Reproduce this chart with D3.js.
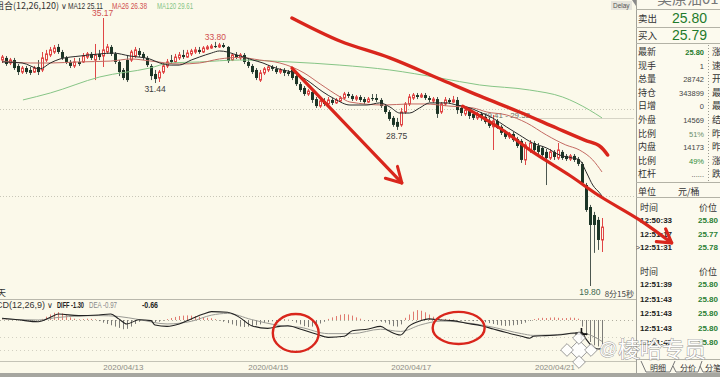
<!DOCTYPE html>
<html><head><meta charset="utf-8">
<script src="https://cdn.jsdelivr.net/npm/d3@7"></script>
<style>
html,body{margin:0;padding:0;background:#fbf9ea;}
svg{display:block;}
</style></head><body>
<svg id="c" width="720" height="377"></svg>
<script>
// ---------------- DATA ----------------
const opens = [32.76,32.88,32.59,32.76,32.42,32.07,32.30,32.19,32.07,32.36,
32.19,32.76,33.05,33.22,33.51,33.22,32.88,32.65,32.42,32.65,
32.65,32.93,33.11,32.76,33.11,32.99,33.22,33.51,33.11,32.65,
32.19,32.76,32.76,32.99,33.28,33.11,32.88,32.42,31.96,31.73,
32.07,32.42,32.76,32.65,32.88,33.05,32.93,33.11,33.22,33.34,
33.22,33.40,33.45,33.56,33.51,33.62,33.51,32.76,33.05,32.88,
33.05,32.65,32.42,32.19,31.61,32.02,32.19,32.36,32.25,32.07,
32.19,32.07,32.19,31.84,31.38,31.16,30.81,30.93,30.52,30.12,
30.41,30.24,30.47,30.30,30.41,30.58,30.81,30.70,30.52,30.64,
30.52,30.35,30.58,30.58,30.47,30.12,29.78,29.44,29.21,29.04,
29.78,30.24,30.58,30.75,30.64,30.75,30.58,30.41,30.52,29.78,
30.24,30.47,30.35,30.47,30.01,29.67,29.89,29.67,29.44,29.67,
29.50,29.27,28.93,29.27,28.93,28.63,28.35,28.52,28.23,28.12,
27.03,27.60,28.00,27.83,27.72,27.49,27.14,27.49,27.14,27.49,
27.26,27.08,27.26,27.08,26.80,25.59,24.33,23.87,23.59,22.44];
const highs = [33.05,32.99,32.88,32.88,32.53,32.42,32.42,32.36,32.42,32.76,
33.22,33.34,33.51,33.62,33.68,33.34,32.99,32.76,32.88,32.88,
33.16,33.22,33.22,33.68,33.34,35.17,33.68,33.62,33.22,32.76,
32.30,33.05,33.34,33.51,33.45,33.22,32.99,32.53,32.19,32.19,
32.59,32.82,33.05,33.11,33.22,33.34,33.34,33.40,33.51,33.51,
33.56,33.62,33.68,33.80,33.74,33.74,33.56,33.16,33.22,33.16,
33.16,32.88,32.53,32.30,32.19,32.36,32.47,32.47,32.42,32.30,
32.30,32.19,32.30,31.96,31.50,31.27,31.10,31.04,30.64,30.52,
30.58,30.64,30.58,30.58,30.70,30.93,30.93,30.81,30.75,30.75,
30.64,30.64,30.81,30.81,30.58,30.24,29.89,29.55,29.44,30.01,
30.35,30.81,30.87,30.87,30.87,30.87,30.70,30.64,30.64,30.35,
30.64,30.58,30.70,30.64,30.12,30.07,30.01,29.84,29.78,29.78,
29.61,29.44,29.61,29.38,29.04,28.75,28.63,28.63,28.35,28.23,
28.06,28.17,28.12,28.00,27.83,27.66,27.66,27.60,28.00,27.60,
27.37,27.37,27.37,27.20,26.91,25.71,24.45,24.05,23.76,23.70];
const lows = [32.59,32.42,32.47,32.19,31.90,31.96,31.96,31.90,32.02,31.90,
32.07,32.65,32.93,33.11,33.11,32.76,32.53,32.30,32.30,32.42,
32.59,32.82,32.76,31.61,32.76,32.36,33.11,32.99,32.53,31.84,
31.61,31.50,32.65,32.88,32.93,32.76,32.36,31.61,31.44,31.50,
31.96,32.30,32.53,32.59,32.76,32.82,32.88,32.99,33.11,33.11,
33.16,33.34,33.40,33.45,33.45,33.45,32.59,32.70,32.82,32.76,
32.53,32.30,31.96,31.61,31.50,31.90,32.07,32.13,31.96,31.96,
31.84,31.84,31.61,31.27,30.93,30.70,30.70,30.30,30.01,30.01,
30.12,30.12,30.18,30.24,30.35,30.47,30.58,30.41,30.41,30.35,
30.24,30.30,30.41,30.35,30.01,29.67,29.27,28.93,28.75,28.93,
29.67,30.12,30.47,30.52,30.58,30.47,30.35,30.30,29.44,29.67,
30.12,30.24,30.30,29.67,29.55,29.55,29.38,29.32,29.32,29.27,
29.10,28.86,27.60,28.81,28.46,28.23,28.23,28.06,27.72,26.86,
26.74,27.43,27.49,27.31,27.14,25.59,27.03,27.03,27.03,27.03,
26.97,26.97,26.91,26.68,25.59,24.05,19.80,21.70,21.87,21.75];
const closes = [32.93,32.53,32.76,32.30,32.07,32.30,32.07,32.02,32.30,32.07,
32.88,33.11,33.34,33.45,33.22,32.88,32.65,32.42,32.65,32.53,
32.99,33.11,32.88,33.05,32.93,33.34,33.51,33.11,32.65,32.07,
31.73,31.61,33.22,33.34,33.05,32.88,32.47,31.84,31.67,32.07,
32.42,32.65,32.65,32.93,33.05,32.93,33.16,33.28,33.34,33.22,
33.45,33.51,33.56,33.51,33.62,33.51,32.70,33.05,32.93,33.05,
32.65,32.42,32.07,31.73,32.02,32.25,32.36,32.25,32.07,32.19,
32.02,31.96,31.73,31.38,31.04,30.81,30.98,30.47,30.12,30.41,
30.24,30.47,30.30,30.47,30.58,30.81,30.70,30.52,30.64,30.47,
30.35,30.52,30.52,30.47,30.12,29.78,29.38,29.04,28.93,29.78,
30.24,30.64,30.75,30.64,30.75,30.58,30.47,30.52,29.67,30.24,
30.47,30.35,30.47,29.89,29.72,29.89,29.55,29.44,29.67,29.44,
29.21,28.98,29.27,28.86,28.58,28.35,28.52,28.17,27.83,27.03,
27.89,28.00,27.60,27.49,27.31,27.14,27.49,27.20,27.60,27.14,
27.08,27.26,27.03,26.80,25.71,24.16,23.30,23.30,22.44,23.18];

// moving averages (bar index, price)
const ma12Idx = [0,5,9.4,12,14.4,19.4,24.3,27.5,31.8,36.7,39.2,42,44,47,49,52,54,56,57.5,60,62.3,64.8,67.2,69.7,72,75.7,79.7,82.6,86.4,90.6,93.8,96.3,98.8,101.2,103.7,106.2,110.4,112.9,115.4,118.6,121.8,125.3,128.5,131.8,135.2,138.5,141.7,143.4,145.2,146.7,148.4,149];
const ma12Val = [32.65,32.59,32.25,32.59,32.82,32.99,33.11,33.16,32.99,32.82,32.59,32.47,32.47,32.76,32.93,33.16,33.28,33.22,33.11,32.93,32.76,32.59,32.36,32.19,32.07,31.61,30.93,30.53,30.18,30.18,30.30,30.07,29.72,29.72,30.01,30.30,30.30,30.18,30.07,29.78,29.44,28.92,28.46,28.00,27.72,27.31,27.14,27.03,26.28,25.59,25.14,24.96];
const ma26Idx = [0,7,12,19,27,32,37,44,49,54,59,64,69,72,75,79,84,86.4,95,101,105,111,117,120.4,125.3,130.3,135.2,140,143.4,146.7,149];
const ma26Val = [32.70,32.59,32.59,32.65,32.70,32.82,32.70,32.53,32.59,32.82,32.91,32.76,32.59,32.36,32.02,31.39,30.64,30.35,30.18,30.24,30.24,30.12,30.01,29.78,29.61,29.15,28.46,27.89,27.60,27.03,26.34];
const ma120Idx = [5.2,12,24.3,36.7,41.7,49.1,59,71.5,83.9,96.3,108.7,118.6,131,139.2,145.9,149];
const ma120Val = [30.47,30.87,31.79,32.30,32.59,32.65,32.76,32.65,32.47,32.19,31.73,31.33,31.04,30.64,29.89,29.44];

// MACD
const diffIdx = [0,4,9,12,14,19,24,27,29,31,34,37,38,41,44,47,50,52,56,59,62,66,69,71,74,78,81,85,87,91,94,96,99,101,104,106,109,112,115,119,122,125,129,131,132,135,138,142,144,145,148,149];
const diffVal = [0.08,0.01,-0.08,0.12,0.27,0.20,0.23,0.27,0.05,-0.18,0.01,-0.03,-0.23,-0.29,-0.18,0.05,0.27,0.38,0.35,0.12,-0.26,-0.38,-0.29,-0.26,-0.41,-0.64,-0.79,-0.74,-0.49,-0.41,-0.29,-0.49,-0.68,-0.29,-0.03,0.05,0.0,-0.03,-0.14,-0.26,-0.41,-0.56,-0.74,-0.83,-0.74,-0.71,-0.68,-0.59,-0.56,-0.86,-1.32,-1.30];
const deaIdx = [0,9,14,24,29,34,41,47,52,56,62,69,74,81,87,94,99,104,109,115,122,129,132,138,144,149];
const deaVal = [0.05,0.0,0.12,0.20,0.16,0.02,-0.18,-0.06,0.22,0.30,0.02,-0.25,-0.33,-0.62,-0.62,-0.42,-0.52,-0.22,-0.05,-0.12,-0.33,-0.62,-0.70,-0.66,-0.60,-0.97];
const macdHist = [0.02,0.03,0.02,0.01,-0.02,-0.03,-0.04,-0.03,-0.02,-0.04,
0.05,0.15,0.25,0.33,0.36,0.3,0.22,
0.12,0.06,0.03,0.04,0.06,0.05,0.03,
-0.05,-0.12,-0.18,-0.24,-0.3,-0.36,-0.42,-0.4,-0.3,-0.18,
-0.08,-0.04,-0.02,-0.06,-0.1,-0.08,-0.03,
0.04,0.09,0.14,0.18,0.2,0.21,0.2,0.18,0.15,0.12,0.1,0.08,0.04,
-0.03,-0.08,-0.14,-0.2,-0.26,-0.3,-0.32,-0.3,-0.27,-0.24,-0.2,-0.14,-0.1,
-0.06,-0.04,0.02,0.04,0.02,-0.04,-0.12,
-0.2,-0.28,-0.32,-0.3,-0.24,-0.16,-0.08,
0.05,0.12,0.18,0.24,0.27,0.25,0.2,0.12,0.06,
-0.03,-0.05,-0.06,-0.05,-0.08,-0.12,
-0.2,-0.28,-0.3,-0.2,
0.1,0.25,0.38,0.45,0.42,0.35,0.25,0.15,
0.06,0.03,0.05,0.04,0.02,-0.02,-0.03,-0.04,-0.03,-0.05,-0.04,-0.06,
-0.1,-0.14,-0.18,-0.22,-0.25,-0.27,-0.26,-0.24,-0.22,-0.18,-0.12,
-0.04,0.04,0.08,0.1,0.09,0.11,0.12,0.1,0.08,0.09,0.11,0.1,0.06,
-0.3,-0.7,-1.0,-1.15,-1.2,-1.1];

const dateLabels = ["2020/04/13","2020/04/15","2020/04/17","2020/04/21"];
const dateIdx = [30, 66, 101.5, 137.2];
const gridPrices = [30, 25];
const macdGrid = [0, -0.77, -1.36];
const markIdx = [25, 38, 53, 98, 146];
const markType = ["high","low","high","low","low"];

const legendMA = ["MA12 25.11","MA26 26.38","MA120 29.61"];
const legendMACD = ["DIFF -1.30","DEA -0.97","-0.66"];

// hand-drawn annotations (bar index, price)
const upperLineIdx = [72.0,83.9,96.3,108.7,118.6,128.5,137.7,144.7,148.4,150.4];
const upperLineVal = [35.17,33.85,32.88,31.67,30.70,29.78,28.86,28.17,27.83,27.31];
const lowerLineIdx = [114.4,123.6,131.8,141.2,148.4,158.3,166.3];
const lowerLineVal = [30.12,28.86,27.49,26.11,24.96,23.59,22.27];
const lowerHeadIdx = [162.5,166.3,164.8];
const lowerHeadVal = [22.35,22.27,23.07];
const leftArrowIdx = [72.0,99.3];
const leftArrowVal = [32.30,25.71];
const leftHeadIdx = [95.2,99.3,98.2];
const leftHeadVal = [25.98,25.71,26.66];
const circleIdx = [72.95,113.4];
const circleVal = [-0.59,-0.36];
const circleRIdx = [5.7,6.45];
const circleRVal = [0.86,0.73];
const cursorIdx = 143.9, cursorVal = -0.64;

// right panel
const statLabels = ["最新","现手","总量","持仓","日增","外盘","比例","内盘","比例","杠杆"];
const statValues = ["25.80","1","28742","343899","0","14569","51%","14173","49%","......"];
const statRight = ["涨","速","开","最","最","结","昨","昨","涨","跌"];
const ticks1Time = ["12:50:33","12:51:17","12:51:31"];
const ticks1Price = ["25.80","25.77","25.78"];
const ticks2Time = ["12:51:39","12:51:43","12:51:43","12:51:43","12:51:45"];
const ticks2Price = ["25.80","25.80","25.80","25.80","25.80"];

// ---------------- DRAW ----------------
const BG = "#fbf9ea";
const UP = "#e04646", DOWN = "#1c3526", DOWNW = "#4b5750";
const CJK = "'Noto Sans CJK SC', sans-serif";
const LAT = "'Liberation Sans', Arial, sans-serif";
const RED = "#d9261c";
const svg = d3.select("#c");
svg.append("rect").attr("width",720).attr("height",377).attr("fill",BG);

const N = opens.length;
const x = d3.scaleLinear().domain([0, N-1]).range([2, 602]);
const y = d3.scaleLinear().domain([19.80, 35.17]).range([286, 18]);
const ym = d3.scaleLinear().domain([0, -1]).range([320, 342]);

const defs = svg.append("defs");
defs.append("clipPath").attr("id","clipP").append("rect").attr("x",0).attr("y",0).attr("width",636).attr("height",299);
defs.append("clipPath").attr("id","clipM").append("rect").attr("x",0).attr("y",300).attr("width",636).attr("height",61);

// grid lines
svg.append("g").selectAll("line").data(gridPrices).join("line")
  .attr("x1",0).attr("x2",636).attr("y1",d=>Math.round(y(d))+1.5).attr("y2",d=>Math.round(y(d))+1.5)
  .attr("stroke","#c9c7b8").attr("stroke-dasharray","1,2");
// range line
const rangeY = Math.round(y(29.41))+0.5;
svg.append("line").attr("x1",533).attr("x2",634).attr("y1",rangeY).attr("y2",rangeY).attr("stroke","#d6d4c6");
svg.append("text").attr("x",483).attr("y",rangeY-1).attr("font-family",LAT).attr("font-size",8).attr("fill","#6e6e66").text("29.41 - 29.52");

const bars = d3.range(N).map(i=>({i,o:opens[i],h:highs[i],l:lows[i],c:closes[i]}));
const gP = svg.append("g").attr("clip-path","url(#clipP)");
const cx = i => Math.round(x(i));
gP.selectAll("line.w").data(bars).join("line")
  .attr("x1",d=>cx(d.i)+0.5).attr("x2",d=>cx(d.i)+0.5)
  .attr("y1",d=>y(d.h)).attr("y2",d=>y(d.l))
  .attr("stroke",d=>d.c>=d.o?UP:DOWNW).attr("stroke-width",1);
gP.selectAll("rect.b").data(bars).join("rect")
  .attr("x",d=>d.c>=d.o? cx(d.i)-0.5 : cx(d.i)-1)
  .attr("y",d=>d.c>=d.o? y(d.c) : y(d.o))
  .attr("width",d=>d.c>=d.o?2:3)
  .attr("height",d=>Math.max(1, Math.abs(y(d.c)-y(d.o))))
  .attr("fill",d=>d.c>=d.o?BG:DOWN)
  .attr("stroke",d=>d.c>=d.o?UP:"none").attr("stroke-width",1);

const lineP = d3.line().x(d=>x(d[0])).y(d=>y(d[1])).curve(d3.curveMonotoneX);
const maSets = [[ma120Idx,ma120Val,"#86c586"],[ma26Idx,ma26Val,"#c46a62"],[ma12Idx,ma12Val,"#2a2a2a"]];
maSets.forEach(([ix,vv,col])=>{
  gP.append("path").attr("d",lineP(ix.map((k,j)=>[k,vv[j]]))).attr("fill","none").attr("stroke",col).attr("stroke-width",1);
});

// extreme labels
markIdx.forEach((k,j)=>{
  const hi = markType[j]==="high";
  const v = hi?highs[k]:lows[k];
  const col = hi?"#d05050":(v<20?"#3f6b52":"#3c3c3c");
  svg.append("text").attr("x",x(k)).attr("y",hi? y(v)-2 : y(v)+9)
    .attr("text-anchor","middle").attr("font-family",LAT).attr("font-size",8.5).attr("fill",col)
    .text(v.toFixed(2));
});

// top legend
svg.append("text").attr("x",59).attr("y",9).attr("text-anchor","end").attr("font-family",CJK).attr("font-size",9).attr("fill","#333")
  .text("均线组合(12,26,120)");
svg.append("text").attr("x",61).attr("y",9).attr("font-family",LAT).attr("font-size",7.5).attr("fill","#333").text("∨");
const legX = [68,112,157], legW=[35,35,36], legC=["#333","#d05050","#86c586"];
legendMA.forEach((s,j)=>svg.append("text").attr("x",legX[j]).attr("y",9).attr("font-family",LAT).attr("font-size",9)
  .attr("textLength",legW[j]).attr("lengthAdjust","spacingAndGlyphs").attr("fill",legC[j]).text(s));

// Delay tag
svg.append("rect").attr("x",611).attr("y",1).attr("width",21).attr("height",9).attr("fill","#e6e5dc");
svg.append("text").attr("x",613).attr("y",8).attr("font-family",LAT).attr("font-size",6.5).attr("fill","#555").text("Delay");
svg.append("path").attr("d","M632,0L636,0L636,6Z").attr("fill","#8a8a8a");

// pane separators
svg.append("line").attr("x1",0).attr("x2",636).attr("y1",299.5).attr("y2",299.5).attr("stroke","#b9b8ac");
svg.append("line").attr("x1",0).attr("x2",636).attr("y1",361.5).attr("y2",361.5).attr("stroke","#c4c3b6");
svg.append("text").attr("x",-3).attr("y",296).attr("font-family",CJK).attr("font-size",9).attr("fill","#333").text("天");
svg.append("text").attr("x",634).attr("y",297).attr("text-anchor","end").attr("font-family",CJK).attr("font-size",8).attr("fill","#444").text("8分15秒");

// MACD pane
svg.append("g").selectAll("line").data(macdGrid).join("line")
  .attr("x1",0).attr("x2",636).attr("y1",d=>Math.round(ym(d))+0.5).attr("y2",d=>Math.round(ym(d))+0.5)
  .attr("stroke",(d,i)=>i===0?"#b0aea0":"#d2d0c2").attr("stroke-dasharray","1,3");
const gM = svg.append("g").attr("clip-path","url(#clipM)");
gM.selectAll("line.h").data(macdHist).join("line")
  .attr("x1",(d,i)=>cx(i)+0.5).attr("x2",(d,i)=>cx(i)+0.5)
  .attr("y1",ym(0)).attr("y2",d=>ym(d))
  .attr("stroke",d=>d>=0?"#e07a70":"#7c7c78").attr("stroke-width",1);
const lineM = d3.line().x(d=>x(d[0])).y(d=>ym(d[1])).curve(d3.curveMonotoneX);
gM.append("path").attr("d",lineM(deaIdx.map((k,j)=>[k,deaVal[j]]))).attr("fill","none").attr("stroke","#9a9a94").attr("stroke-width",1);
gM.append("path").attr("d",lineM(diffIdx.map((k,j)=>[k,diffVal[j]]))).attr("fill","none").attr("stroke","#222").attr("stroke-width",1.1);

svg.append("text").attr("x",45).attr("y",308).attr("text-anchor","end").attr("font-family",LAT).attr("font-size",9).attr("fill","#333").text("MACD(12,26,9)");
svg.append("text").attr("x",47).attr("y",308).attr("font-family",LAT).attr("font-size",7.5).attr("fill","#333").text("∨");
const mlX=[57,89,142], mlW=[27,28,16], mlC=["#222","#8a8a8a","#222"], mlB=["bold","normal","bold"];
legendMACD.forEach((s,j)=>svg.append("text").attr("x",mlX[j]).attr("y",308).attr("font-family",LAT).attr("font-size",9)
  .attr("font-weight",mlB[j]).attr("textLength",mlW[j]).attr("lengthAdjust","spacingAndGlyphs").attr("fill",mlC[j]).text(s));

// date axis
const ax = svg.append("g").attr("transform","translate(0,362)")
  .call(d3.axisBottom(x).tickValues(dateIdx).tickFormat((d,i)=>dateLabels[i]).tickSize(0).tickPadding(2));
ax.select(".domain").remove();
ax.selectAll("text").attr("font-family",LAT).attr("font-size",8).attr("fill","#8c8c84");

// bottom bar
svg.append("rect").attr("x",0).attr("y",373).attr("width",720).attr("height",4).attr("fill","#a6a6a0");

// ---------------- RIGHT PANEL ----------------
const P = svg.append("g");
P.append("rect").attr("x",636).attr("y",0).attr("width",84).attr("height",373).attr("fill","#fcfaee");
P.append("line").attr("x1",636.5).attr("x2",636.5).attr("y1",0).attr("y2",373).attr("stroke","#a3a39a");
[9.5,27.5,43.5,182.5,197.5,359.5].forEach(v=>P.append("line").attr("x1",636).attr("x2",720).attr("y1",v).attr("y2",v).attr("stroke","#b3b2a6"));
P.append("text").attr("x",657).attr("y",4).attr("font-family",CJK).attr("font-size",15).attr("fill","#777").text("美原油01");
P.append("text").attr("x",638).attr("y",22).attr("font-family",CJK).attr("font-size",9.5).attr("fill","#333").text("卖出");
P.append("text").attr("x",707).attr("y",23).attr("text-anchor","end").attr("font-family",LAT).attr("font-size",14).attr("fill","#1f7a2c").text("25.80");
P.append("text").attr("x",638).attr("y",39).attr("font-family",CJK).attr("font-size",9.5).attr("fill","#333").text("买入");
P.append("text").attr("x",707).attr("y",40).attr("text-anchor","end").attr("font-family",LAT).attr("font-size",14).attr("fill","#1f7a2c").text("25.79");
P.append("line").attr("x1",708.5).attr("x2",708.5).attr("y1",45).attr("y2",181).attr("stroke","#9a9a90").attr("stroke-dasharray","1,2");
statLabels.forEach((s,j)=>{
  const by = 55 + j*13.6;
  P.append("text").attr("x",638).attr("y",by).attr("font-family",CJK).attr("font-size",9).attr("fill","#333").text(s);
  const v = statValues[j];
  const col = j===0?"#1f7a2c":(j===6?"#6a8f6a":(j===8?"#2e8a3a":"#444"));
  P.append("text").attr("x",704).attr("y",by).attr("text-anchor","end").attr("font-family",LAT).attr("font-size",7.5)
    .attr("font-weight",j===0?"bold":"normal").attr("fill",col).text(v);
  P.append("text").attr("x",712).attr("y",by).attr("font-family",CJK).attr("font-size",9).attr("fill","#333").text(statRight[j]);
});
P.append("text").attr("x",638).attr("y",195).attr("font-family",CJK).attr("font-size",9).attr("fill","#333").text("单位");
P.append("text").attr("x",678).attr("y",195).attr("font-family",CJK).attr("font-size",9).attr("fill","#333").text("元/桶");
function header(by){
  P.append("text").attr("x",640).attr("y",by).attr("font-family",CJK).attr("font-size",9).attr("fill","#333").text("时间");
  P.append("text").attr("x",717).attr("y",by).attr("text-anchor","end").attr("font-family",CJK).attr("font-size",9).attr("fill","#333").text("价位");
}
header(211); header(275);
function tickRow(t,p,by,mark){
  if(mark) P.append("text").attr("x",636).attr("y",by).attr("font-family",LAT).attr("font-size",7).attr("fill","#333").text(">");
  P.append("text").attr("x",640).attr("y",by).attr("font-family",LAT).attr("font-size",8).attr("font-weight","bold").attr("fill","#222").text(t);
  P.append("text").attr("x",718).attr("y",by).attr("text-anchor","end").attr("font-family",LAT).attr("font-size",8).attr("font-weight","bold").attr("fill","#2a7f34").text(p);
}
ticks1Time.forEach((t,j)=>tickRow(t,ticks1Price[j],223+j*13.5,j===2));
ticks2Time.forEach((t,j)=>tickRow(t,ticks2Price[j],287+j*14.5,false));
// tabs
P.append("path").attr("d","M641,361L646,372L670,372L675,361").attr("fill","none").attr("stroke","#777");
P.append("path").attr("d","M673,366L676,372L698,372L702,361").attr("fill","none").attr("stroke","#777");
P.append("path").attr("d","M700,366L703,372L720,372").attr("fill","none").attr("stroke","#777");
[["明细",658],["分价",688],["分笔",713]].forEach(([s,px])=>P.append("text").attr("x",px).attr("y",370.5).attr("text-anchor","middle")
  .attr("font-family",CJK).attr("font-size",8).attr("fill","#333").text(s));

// ---------------- ANNOTATIONS ----------------
const A = svg.append("g").attr("fill","none").attr("stroke",RED).attr("stroke-linecap","round").attr("stroke-linejoin","round");
const lineA = d3.line().x(d=>x(d[0])).y(d=>y(d[1])).curve(d3.curveCatmullRom);
const zip = (a,b)=>a.map((k,j)=>[k,b[j]]);
A.append("path").attr("d",lineA(zip(upperLineIdx,upperLineVal))).attr("stroke-width",3.4);
A.append("path").attr("d",lineA(zip(lowerLineIdx,lowerLineVal))).attr("stroke-width",3.2);
A.append("path").attr("d",d3.line().x(d=>x(d[0])).y(d=>y(d[1]))(zip(lowerHeadIdx,lowerHeadVal))).attr("stroke-width",3.2);
A.append("path").attr("d",d3.line().x(d=>x(d[0])).y(d=>y(d[1]))(zip(leftArrowIdx,leftArrowVal))).attr("stroke-width",3.2);
A.append("path").attr("d",d3.line().x(d=>x(d[0])).y(d=>y(d[1]))(zip(leftHeadIdx,leftHeadVal))).attr("stroke-width",3);
circleIdx.forEach((k,j)=>{
  A.append("ellipse").attr("cx",x(k)).attr("cy",ym(circleVal[j]))
    .attr("rx",x(k+circleRIdx[j])-x(k)).attr("ry",ym(circleVal[j]-circleRVal[j])-ym(circleVal[j]))
    .attr("stroke-width",2.4);
});
// cursor cross
const ccx = x(cursorIdx), ccy = ym(cursorVal);
svg.append("path").attr("d",`M${ccx-6},${ccy}H${ccx+6}M${ccx},${ccy-6}V${ccy+6}`).attr("stroke","#111").attr("stroke-width",1.6);

// watermark
const Wm = svg.append("g").attr("opacity",0.9);
const lg = Wm.append("g").attr("fill","#fff").attr("stroke","#8c8c8c").attr("stroke-width",0.9);
[[579,350,7],[579,338,4.5],[579,362,4.5],[567,350,4.5],[591,350,4.5]].forEach(([a,b,s])=>
  lg.append("rect").attr("x",a-s).attr("y",b-s).attr("width",2*s).attr("height",2*s).attr("transform",`rotate(45 ${a} ${b})`));
Wm.append("text").attr("x",599).attr("y",355).attr("font-family",LAT).attr("font-size",18).attr("fill","#fff")
  .attr("stroke","#8c8c8c").attr("stroke-width",0.8).attr("paint-order","stroke").text("@");
Wm.append("text").attr("x",618).attr("y",357).attr("font-family",CJK).attr("font-size",22).attr("fill","#fff")
  .attr("stroke","#8c8c8c").attr("stroke-width",1).attr("paint-order","stroke").text("棱哈专员");
</script>
</body></html>
